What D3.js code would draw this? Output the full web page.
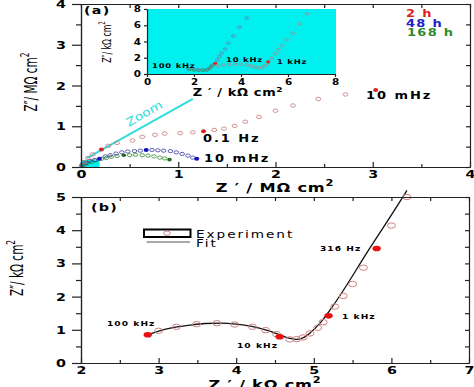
<!DOCTYPE html>
<html lang="en">
<head>
<meta charset="UTF-8">
<title>Nyquist plots</title>
<style>
  body { margin: 0; background: #fff; }
  svg text { font-family: "DejaVu Sans", sans-serif; }
  .ax path, .ax line { stroke: #222; stroke-width: 1.2; }
</style>
</head>
<body>
<div class="chart"></div>
<script src="https://d3js.org/d3.v7.min.js"></script>
<script>
// ---- panel (a): Z' , Z'' in MOhm cm2 ----
const a2h = [[0.03,0.12],[0.07,0.22],[0.12,0.31],[0.28,0.52],[0.37,0.59],[0.53,0.65],[0.63,0.74],
  [0.76,0.79],[0.86,0.82],[1.02,0.83],[1.15,0.85],[1.37,0.91],[1.47,0.94],[1.58,1.01],[1.69,1.11],
  [1.83,1.23],[2.00,1.38],[2.18,1.51],[2.44,1.67],[2.72,1.78]]
const a48h = [[0.01,0.05],[0.05,0.10],[0.09,0.15],[0.14,0.17],[0.25,0.26],[0.30,0.29],[0.36,0.33],
  [0.42,0.36],[0.48,0.38],[0.55,0.39],[0.61,0.40],[0.73,0.42],[0.79,0.41],[0.85,0.40],[0.92,0.39],
  [0.98,0.36],[1.04,0.32],[1.10,0.28],[1.15,0.23]]
const a168h = [[0.01,0.02],[0.04,0.06],[0.07,0.10],[0.11,0.13],[0.15,0.16],[0.21,0.20],[0.26,0.22],
  [0.31,0.25],[0.37,0.27],[0.50,0.29],[0.56,0.30],[0.63,0.29],[0.69,0.28],[0.75,0.26],[0.81,0.23],[0.86,0.21]]
const a2hMarked = [[0.21,0.43],[1.26,0.88],[3.03,1.89]]
const a48hMarked = [[0.19,0.20],[0.67,0.42],[1.19,0.20]]
const a168hMarked = [[0.44,0.29],[0.91,0.18]]
const zoomLine = [[0.06,0.22],[1.15,1.67]]
const zoomBox = [0, 0.19, 0, 0.17]

// ---- inset: kOhm cm2 ----
const i2h = [[3.0,1.0],[3.25,1.1],[3.5,1.18],[3.75,1.2],[4.0,1.18],[4.25,1.1],[4.45,0.98],[4.6,0.85],
  [4.75,0.75],[4.9,0.8],[5.0,1.0],[5.1,1.2],[5.3,1.9],[5.45,2.5],[5.6,3.0],[5.75,3.5],[5.94,4.2],
  [6.2,5.0],[6.48,6.17],[6.8,7.4]]
const i48h = [[1.75,0.65],[1.95,0.6],[2.15,0.55],[2.35,0.5],[2.55,0.55],[2.7,0.8],[2.8,1.1],[2.99,1.73],
  [3.08,2.14],[3.18,2.56],[3.32,3.05],[3.46,3.79],[3.67,4.69],[3.93,5.77],[4.24,6.88]]
const i168h = [[1.8,0.55],[2.0,0.5],[2.2,0.45],[2.4,0.45],[2.55,0.5],[2.65,0.7],[2.75,1.0]]
const iMarked = [[2.9,1.32],[5.16,1.5]]

// ---- panel (b): kOhm cm2, 2 h ----
const bExp = [[3.00,0.97],[3.23,1.09],[3.49,1.17],[3.75,1.20],[3.98,1.16],[4.21,1.09],[4.38,0.99],
  [4.52,0.87],[4.69,0.71],[4.78,0.72],[4.86,0.77],[4.95,0.89],[5.05,1.06],[5.12,1.23],[5.27,1.70],
  [5.38,2.02],[5.50,2.38],[5.64,2.87],[6.00,4.14],[6.20,5.0]]
const bMarked = [[2.86,0.85],[4.56,0.79],[5.19,1.42],[5.81,3.45]]
const bFit = [[2.86,0.85],[3.0,0.96],[3.2,1.07],[3.4,1.14],[3.6,1.19],[3.8,1.2],[4.0,1.17],[4.2,1.1],
  [4.4,0.98],[4.55,0.86],[4.68,0.75],[4.78,0.71],[4.88,0.78],[4.95,0.90],[5.08,1.20],[5.21,1.60],
  [5.72,3.45],[6.15,5.01],[6.2,5.2]]

const W = 474, H = 387
const SX = 1.3
const C2 = '#e02020', C48 = '#2a2ab0', C168 = '#2e8b2e', CYAN = '#00f0f0'

const svg = d3.select('.chart').append('svg').attr('width', W).attr('height', H)

function txt(g, x, y, parts, o) {
  o = Object.assign({size: 12, weight: 'bold', fill: '#000', anchor: 'start', ls: 0, sx: SX, sy: 1, rot: 0}, o)
  const t = g.append('text')
    .attr('transform', `translate(${x},${y}) rotate(${o.rot}) scale(${o.sx},${o.sy})`)
    .attr('text-anchor', o.anchor)
    .attr('font-size', o.size)
    .attr('font-weight', o.weight)
    .attr('fill', o.fill)
    .attr('letter-spacing', o.ls)
  if (typeof parts === 'string') t.text(parts)
  else {
    t.append('tspan').text(parts[0])
    t.append('tspan').attr('dy', -o.size * 0.45).attr('font-size', o.size * 0.7).text(parts[1])
  }
  return t
}

function styleTicks(sel, fs, shift) {
  sel.selectAll('text')
    .attr('font-family', '"DejaVu Sans", sans-serif')
    .attr('font-size', fs)
    .attr('font-weight', 'bold')
    .attr('fill', '#000')
    .each(function () {
      const t = d3.select(this)
      if (shift) t.attr('x', +t.attr('x') / SX)
      t.attr('transform', `scale(${SX},1)`)
    })
}

const fmt = d3.format('d')

function frame(g, x, y, o) {
  const [x0, x1] = x.range(), [y0, y1] = y.range()
  const xAll = o.xMaj.concat(o.xMin), yAll = o.yMaj.concat(o.yMin)
  // bottom
  g.append('g').attr('class', 'ax').attr('transform', `translate(0,${y0})`)
    .call(d3.axisBottom(x).tickValues(o.xMaj).tickFormat(fmt).tickSize(-5).tickSizeOuter(0).tickPadding(3))
    .call(s => styleTicks(s, o.fs, false))
  g.append('g').attr('class', 'ax').attr('transform', `translate(0,${y0})`)
    .call(d3.axisBottom(x).tickValues(o.xMin).tickSize(-3).tickSizeOuter(0).tickFormat(''))
  // left
  g.append('g').attr('class', 'ax').attr('transform', `translate(${x0},0)`)
    .call(d3.axisLeft(y).tickValues(o.yMaj).tickFormat(fmt).tickSize(9).tickSizeOuter(0).tickPadding(6))
    .call(s => styleTicks(s, o.fs, true))
  g.append('g').attr('class', 'ax').attr('transform', `translate(${x0},0)`)
    .call(d3.axisLeft(y).tickValues(o.yMin).tickSize(5).tickSizeOuter(0).tickFormat(''))
  // top and right
  g.append('g').attr('class', 'ax').attr('transform', `translate(0,${y1})`)
    .call(d3.axisTop(x).tickValues(xAll).tickSize(-4).tickSizeOuter(0).tickFormat(''))
  g.append('g').attr('class', 'ax').attr('transform', `translate(${x1},0)`)
    .call(d3.axisRight(y).tickValues(yAll).tickSize(-4).tickSizeOuter(0).tickFormat(''))
}

function dots(g, x, y, data, o) {
  g.selectAll(null).data(data).enter().append('ellipse')
    .attr('cx', d => x(d[0])).attr('cy', d => y(d[1]))
    .attr('rx', o.rx).attr('ry', o.ry)
    .attr('fill', o.fill || 'none')
    .attr('stroke', o.stroke || 'none')
    .attr('stroke-width', o.sw || 0.8)
}

// ================= panel (a) =================
const xA = d3.scaleLinear().domain([0, 4]).range([81, 470])
const yA = d3.scaleLinear().domain([0, 4]).range([167, 4])
const gA = svg.append('g')

gA.append('rect')
  .attr('x', xA(zoomBox[0])).attr('y', yA(zoomBox[3]))
  .attr('width', xA(zoomBox[1]) - xA(zoomBox[0])).attr('height', yA(zoomBox[2]) - yA(zoomBox[3]))
  .attr('fill', CYAN)

gA.append('path')
  .attr('d', d3.line().x(d => xA(d[0])).y(d => yA(d[1]))(zoomLine))
  .attr('stroke', '#30dcdc').attr('stroke-width', 2).attr('fill', 'none')
txt(gA, 146, 117, 'Zoom', {size: 11.5, weight: 'normal', fill: '#30dcdc', anchor: 'middle', rot: -29, sx: 1.2})

dots(gA, xA, yA, a168h, {rx: 2.3, ry: 1.6, stroke: C168})
dots(gA, xA, yA, a48h, {rx: 2.3, ry: 1.6, stroke: '#3a3aa0'})
dots(gA, xA, yA, a2h, {rx: 2.5, ry: 1.7, stroke: '#c87878'})
dots(gA, xA, yA, a168hMarked, {rx: 2.3, ry: 1.8, fill: '#1f6b1f'})
dots(gA, xA, yA, a48hMarked, {rx: 2.5, ry: 2, fill: '#1010c0'})
dots(gA, xA, yA, a2hMarked, {rx: 2.5, ry: 2, fill: C2})

frame(gA, xA, yA, {xMaj: [0, 1, 2, 3, 4], xMin: [0.5, 1.5, 2.5, 3.5],
  yMaj: [0, 1, 2, 3, 4], yMin: [0.5, 1.5, 2.5, 3.5], fs: 11})

txt(gA, 84, 14, '(a)', {size: 11, ls: 1})
txt(gA, 406, 17, '2 h', {size: 10, fill: C2, ls: 1})
txt(gA, 406, 26.5, '48 h', {size: 10, fill: '#2020c8', ls: 1})
txt(gA, 407, 36, '168 h', {size: 10, fill: C168, ls: 1})
txt(gA, 366, 99, '10 mHz', {size: 10, ls: 1.5})
txt(gA, 203, 142, '0.1 Hz', {size: 10, ls: 1.5})
txt(gA, 204, 162, '10 mHz', {size: 10, ls: 1.5})
txt(gA, 275, 192, ['Z \u2032 / M\u03a9 cm', '2'], {size: 12.5, anchor: 'middle', ls: 0.6})
txt(gA, 37, 82, ['Z\u2033/ M\u03a9 cm', '2'], {size: 14, weight: 'normal', anchor: 'middle', rot: -90, sx: 0.75, sy: 1.3})

// ---- inset ----
const xI = d3.scaleLinear().domain([0, 8]).range([147, 335])
const yI = d3.scaleLinear().domain([0, 8]).range([74, 9])
const gI = svg.append('g')
gI.append('rect').attr('x', 147).attr('y', yI(8)).attr('width', xI(8) - xI(0) + 1).attr('height', yI(0) - yI(8))
  .attr('fill', CYAN)
dots(gI, xI, yI, i168h, {rx: 1.8, ry: 1.3, stroke: C168})
dots(gI, xI, yI, i48h, {rx: 1.8, ry: 1.3, stroke: '#6a7aa8'})
dots(gI, xI, yI, i2h, {rx: 1.8, ry: 1.3, stroke: '#b88080'})
dots(gI, xI, yI, iMarked, {rx: 2, ry: 1.5, fill: C2})
gI.append('g').attr('class', 'ax').attr('transform', 'translate(0,74)')
  .call(d3.axisBottom(xI).tickValues([0, 2, 4, 6, 8]).tickFormat(fmt).tickSize(3).tickSizeOuter(0).tickPadding(2))
  .call(s => styleTicks(s, 8, false))
gI.append('g').attr('class', 'ax').attr('transform', 'translate(147,0)')
  .call(d3.axisLeft(yI).tickValues([0, 2, 4, 6, 8]).tickFormat(fmt).tickSize(3).tickSizeOuter(0).tickPadding(3))
  .call(s => styleTicks(s, 8, true))
txt(gI, 152, 68, '100 kHz', {size: 6.5, ls: 0.6})
txt(gI, 226, 62, '10 kHz', {size: 6.5, ls: 0.6})
txt(gI, 277, 64, '1 kHz', {size: 6.5, ls: 0.6})
txt(gI, 238, 96, ['Z \u2032 / k\u03a9 cm', '2'], {size: 10, anchor: 'middle', ls: 0.5})
txt(gI, 111, 42, ['Z\u2033/ k\u03a9 cm', '2'], {size: 10, weight: 'normal', anchor: 'middle', rot: -90, sx: 0.78, sy: 1.3})

// ================= panel (b) =================
const xB = d3.scaleLinear().domain([2, 7]).range([81, 469])
const yB = d3.scaleLinear().domain([0, 5]).range([363, 197])
const gB = svg.append('g')

gB.append('path')
  .attr('d', d3.line().curve(d3.curveMonotoneX).x(d => xB(d[0])).y(d => yB(d[1]))(bFit))
  .attr('stroke', '#111').attr('stroke-width', 1.3).attr('fill', 'none')
dots(gB, xB, yB, bExp, {rx: 4, ry: 2.7, stroke: '#d08080', sw: 1})
dots(gB, xB, yB, bMarked, {rx: 4.2, ry: 2.8, fill: '#e81010'})

frame(gB, xB, yB, {xMaj: [2, 3, 4, 5, 6, 7], xMin: [2.5, 3.5, 4.5, 5.5, 6.5],
  yMaj: [0, 1, 2, 3, 4, 5], yMin: [0.5, 1.5, 2.5, 3.5, 4.5], fs: 11})

// legend
gB.append('rect').attr('x', 144).attr('y', 229.5).attr('width', 46.5).attr('height', 7.5)
  .attr('fill', 'none').attr('stroke', '#000').attr('stroke-width', 2)
gB.append('ellipse').attr('cx', 167).attr('cy', 233.2).attr('rx', 3.3).attr('ry', 2.2)
  .attr('fill', 'none').attr('stroke', '#d08080').attr('stroke-width', 1)
gB.append('line').attr('x1', 146.5).attr('x2', 190).attr('y1', 242).attr('y2', 242)
  .attr('stroke', '#555').attr('stroke-width', 1)
txt(gB, 196, 237.5, 'Experiment', {size: 10.5, weight: 'normal', ls: 1.5})
txt(gB, 196, 246.5, 'Fit', {size: 10.5, weight: 'normal', ls: 1.5})

txt(gB, 91, 211, '(b)', {size: 11, ls: 1})
txt(gB, 107, 326, '100 kHz', {size: 7, ls: 0.8})
txt(gB, 237, 347.5, '10 kHz', {size: 7, ls: 0.8})
txt(gB, 342, 318.5, '1 kHz', {size: 7, ls: 0.8})
txt(gB, 320, 251, '316 Hz', {size: 7, ls: 0.8})
txt(gB, 265, 389, ['Z \u2032 / k\u03a9 cm', '2'], {size: 12.5, anchor: 'middle', ls: 0.6})
txt(gB, 23, 268, ['Z\u2033/ k\u03a9 cm', '2'], {size: 14, weight: 'normal', anchor: 'middle', rot: -90, sx: 0.75, sy: 1.3})
</script>
</body>
</html>
